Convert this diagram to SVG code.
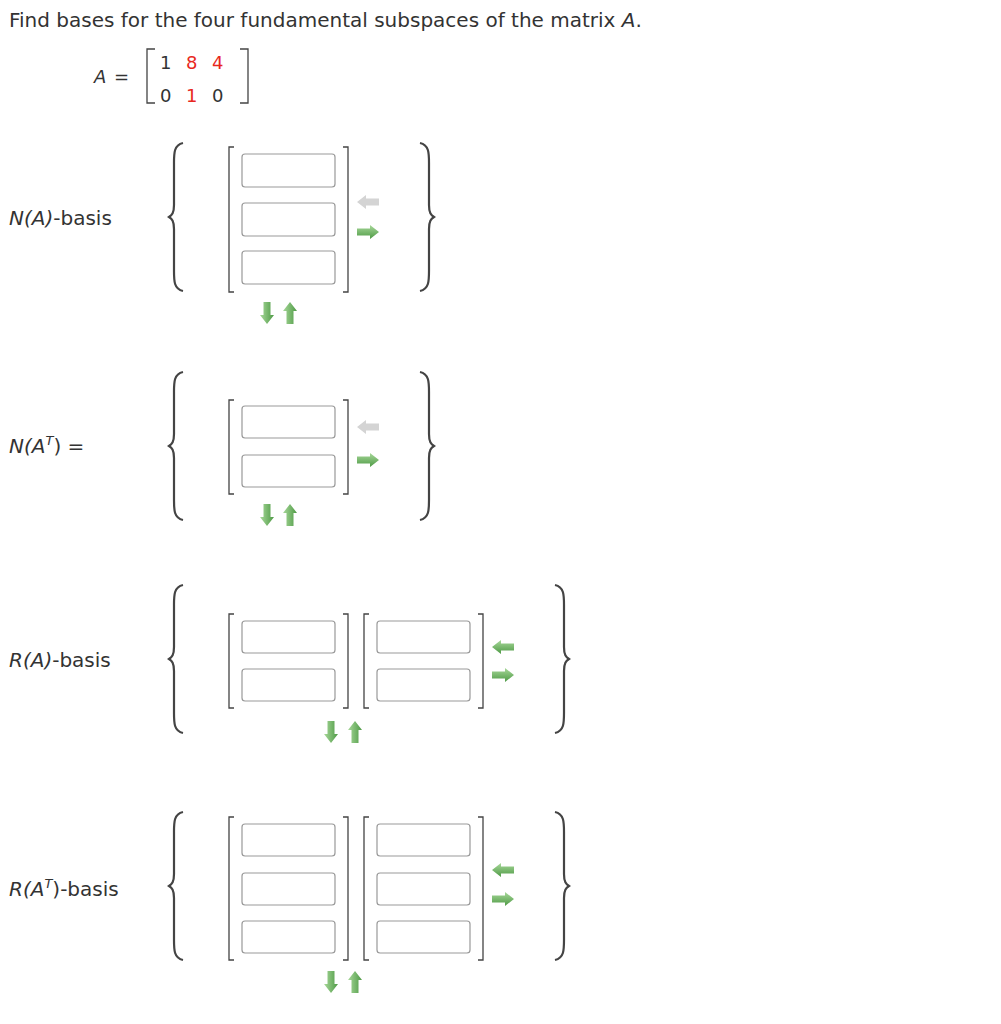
<svg xmlns="http://www.w3.org/2000/svg" width="1001" height="1024" viewBox="0 0 1001 1024">
<style>
text{font-family:"DejaVu Sans",Verdana,sans-serif;font-size:20px;fill:#333}
.m{font-size:18px}
.it{font-style:italic}
.r{fill:#e8281e}
.box{fill:#fff;stroke:#999;stroke-width:1.2}
.br{fill:none;stroke:#444;stroke-width:1.3}
.cb{fill:none;stroke:#444;stroke-width:2.2}
</style>
<defs>
<linearGradient id="g" x1="0" y1="0" x2="0" y2="1"><stop offset="0" stop-color="#a8d89a"/><stop offset="1" stop-color="#4e9a45"/></linearGradient>
<linearGradient id="gv" x1="0" y1="0" x2="1" y2="0"><stop offset="0" stop-color="#a8d89a"/><stop offset="1" stop-color="#4e9a45"/></linearGradient>
<path id="ar" d="M0,-3.5 H13 V-7 L22,0 L13,7 V3.5 H0 Z" fill="url(#g)"/>
<path id="al" d="M22,-3.5 H9 V-7 L0,0 L9,7 V3.5 H22 Z" fill="url(#g)"/>
<path id="alg" d="M22,-3.5 H9 V-7 L0,0 L9,7 V3.5 H22 Z" fill="#d4d4d4"/>
<path id="ad" d="M-3.5,0 V13 H-7 L0,22 L7,13 H3.5 V0 Z" fill="url(#gv)"/>
<path id="au" d="M-3.5,22 V9 H-7 L0,0 L7,9 H3.5 V22 Z" fill="url(#gv)"/>
<path id="lb" d="M13,0 C4,2 4,10 4,20 V62 C4,70 2,72 -1,74 C2,76 4,78 4,86 V128 C4,138 4,146 13,148" class="cb"/>
<path id="rb" d="M0,0 C9,2 9,10 9,20 V62 C9,70 11,72 14,74 C11,76 9,78 9,86 V128 C9,138 9,146 0,148" class="cb"/>
</defs>
<text x="9" y="27">Find bases for the four fundamental subspaces of the matrix <tspan class="it">A</tspan>.</text>
<g id="matrix">
<text x="94" y="83" class="it m">A</text><text x="114" y="83" class="m">=</text>
<path d="M155,49 H147 V103 H155 M240,49 H248 V103 H240" class="br"/>
<text x="160" y="69" class="m">1</text><text x="186" y="69" class="r m">8</text><text x="212" y="69" class="r m">4</text>
<text x="160" y="102" class="m">0</text><text x="186" y="102" class="r m">1</text><text x="212" y="102" class="m">0</text>
</g>
<g id="nA">
<text x="9" y="225" class="it">N(A)<tspan font-style="normal">-basis</tspan></text>
<use href="#lb" x="170" y="143"/><use href="#rb" x="420" y="143"/>
<path d="M234,147 H229 V292 H234 M343,147 H348 V292 H343" class="br"/>
<rect class="box" x="242" y="154" width="93" height="33" rx="3"/>
<rect class="box" x="242" y="203" width="93" height="33" rx="3"/>
<rect class="box" x="242" y="251" width="93" height="33" rx="3"/>
<use href="#alg" x="357" y="202"/><use href="#ar" x="357" y="232"/>
<use href="#ad" x="267" y="302"/><use href="#au" x="290" y="302"/>
</g>
<g id="nAT">
<text x="9" y="453" class="it">N(A<tspan font-size="13" dy="-8">T</tspan><tspan dy="8" font-style="normal">) =</tspan></text>
<use href="#lb" x="170" y="372"/><use href="#rb" x="420" y="372"/>
<path d="M234,400 H229 V494 H234 M343,400 H348 V494 H343" class="br"/>
<rect class="box" x="242" y="406" width="93" height="32" rx="3"/>
<rect class="box" x="242" y="455" width="93" height="32" rx="3"/>
<use href="#alg" x="357" y="427"/><use href="#ar" x="357" y="460"/>
<use href="#ad" x="267" y="504"/><use href="#au" x="290" y="504"/>
</g>
<g id="rA">
<text x="9" y="667" class="it">R(A)<tspan font-style="normal">-basis</tspan></text>
<use href="#lb" x="170" y="585"/><use href="#rb" x="555" y="585"/>
<path d="M234,614 H229 V708 H234 M343,614 H348 V708 H343" class="br"/>
<path d="M369,614 H364 V708 H369 M478,614 H483 V708 H478" class="br"/>
<rect class="box" x="242" y="621" width="93" height="32" rx="3"/>
<rect class="box" x="242" y="669" width="93" height="32" rx="3"/>
<rect class="box" x="377" y="621" width="93" height="32" rx="3"/>
<rect class="box" x="377" y="669" width="93" height="32" rx="3"/>
<use href="#al" x="492" y="647"/><use href="#ar" x="492" y="675"/>
<use href="#ad" x="331" y="721"/><use href="#au" x="355" y="721"/>
</g>
<g id="rAT">
<text x="9" y="896" class="it">R(A<tspan font-size="13" dy="-8">T</tspan><tspan dy="8" font-style="normal">)-basis</tspan></text>
<use href="#lb" x="170" y="812"/><use href="#rb" x="555" y="812"/>
<path d="M234,817 H229 V960 H234 M343,817 H348 V960 H343" class="br"/>
<path d="M369,817 H364 V960 H369 M478,817 H483 V960 H478" class="br"/>
<rect class="box" x="242" y="824" width="93" height="32" rx="3"/>
<rect class="box" x="242" y="873" width="93" height="32" rx="3"/>
<rect class="box" x="242" y="921" width="93" height="32" rx="3"/>
<rect class="box" x="377" y="824" width="93" height="32" rx="3"/>
<rect class="box" x="377" y="873" width="93" height="32" rx="3"/>
<rect class="box" x="377" y="921" width="93" height="32" rx="3"/>
<use href="#al" x="492" y="870"/><use href="#ar" x="492" y="899"/>
<use href="#ad" x="331" y="971"/><use href="#au" x="355" y="971"/>
</g>
<g id="connectors"/>
</svg>
